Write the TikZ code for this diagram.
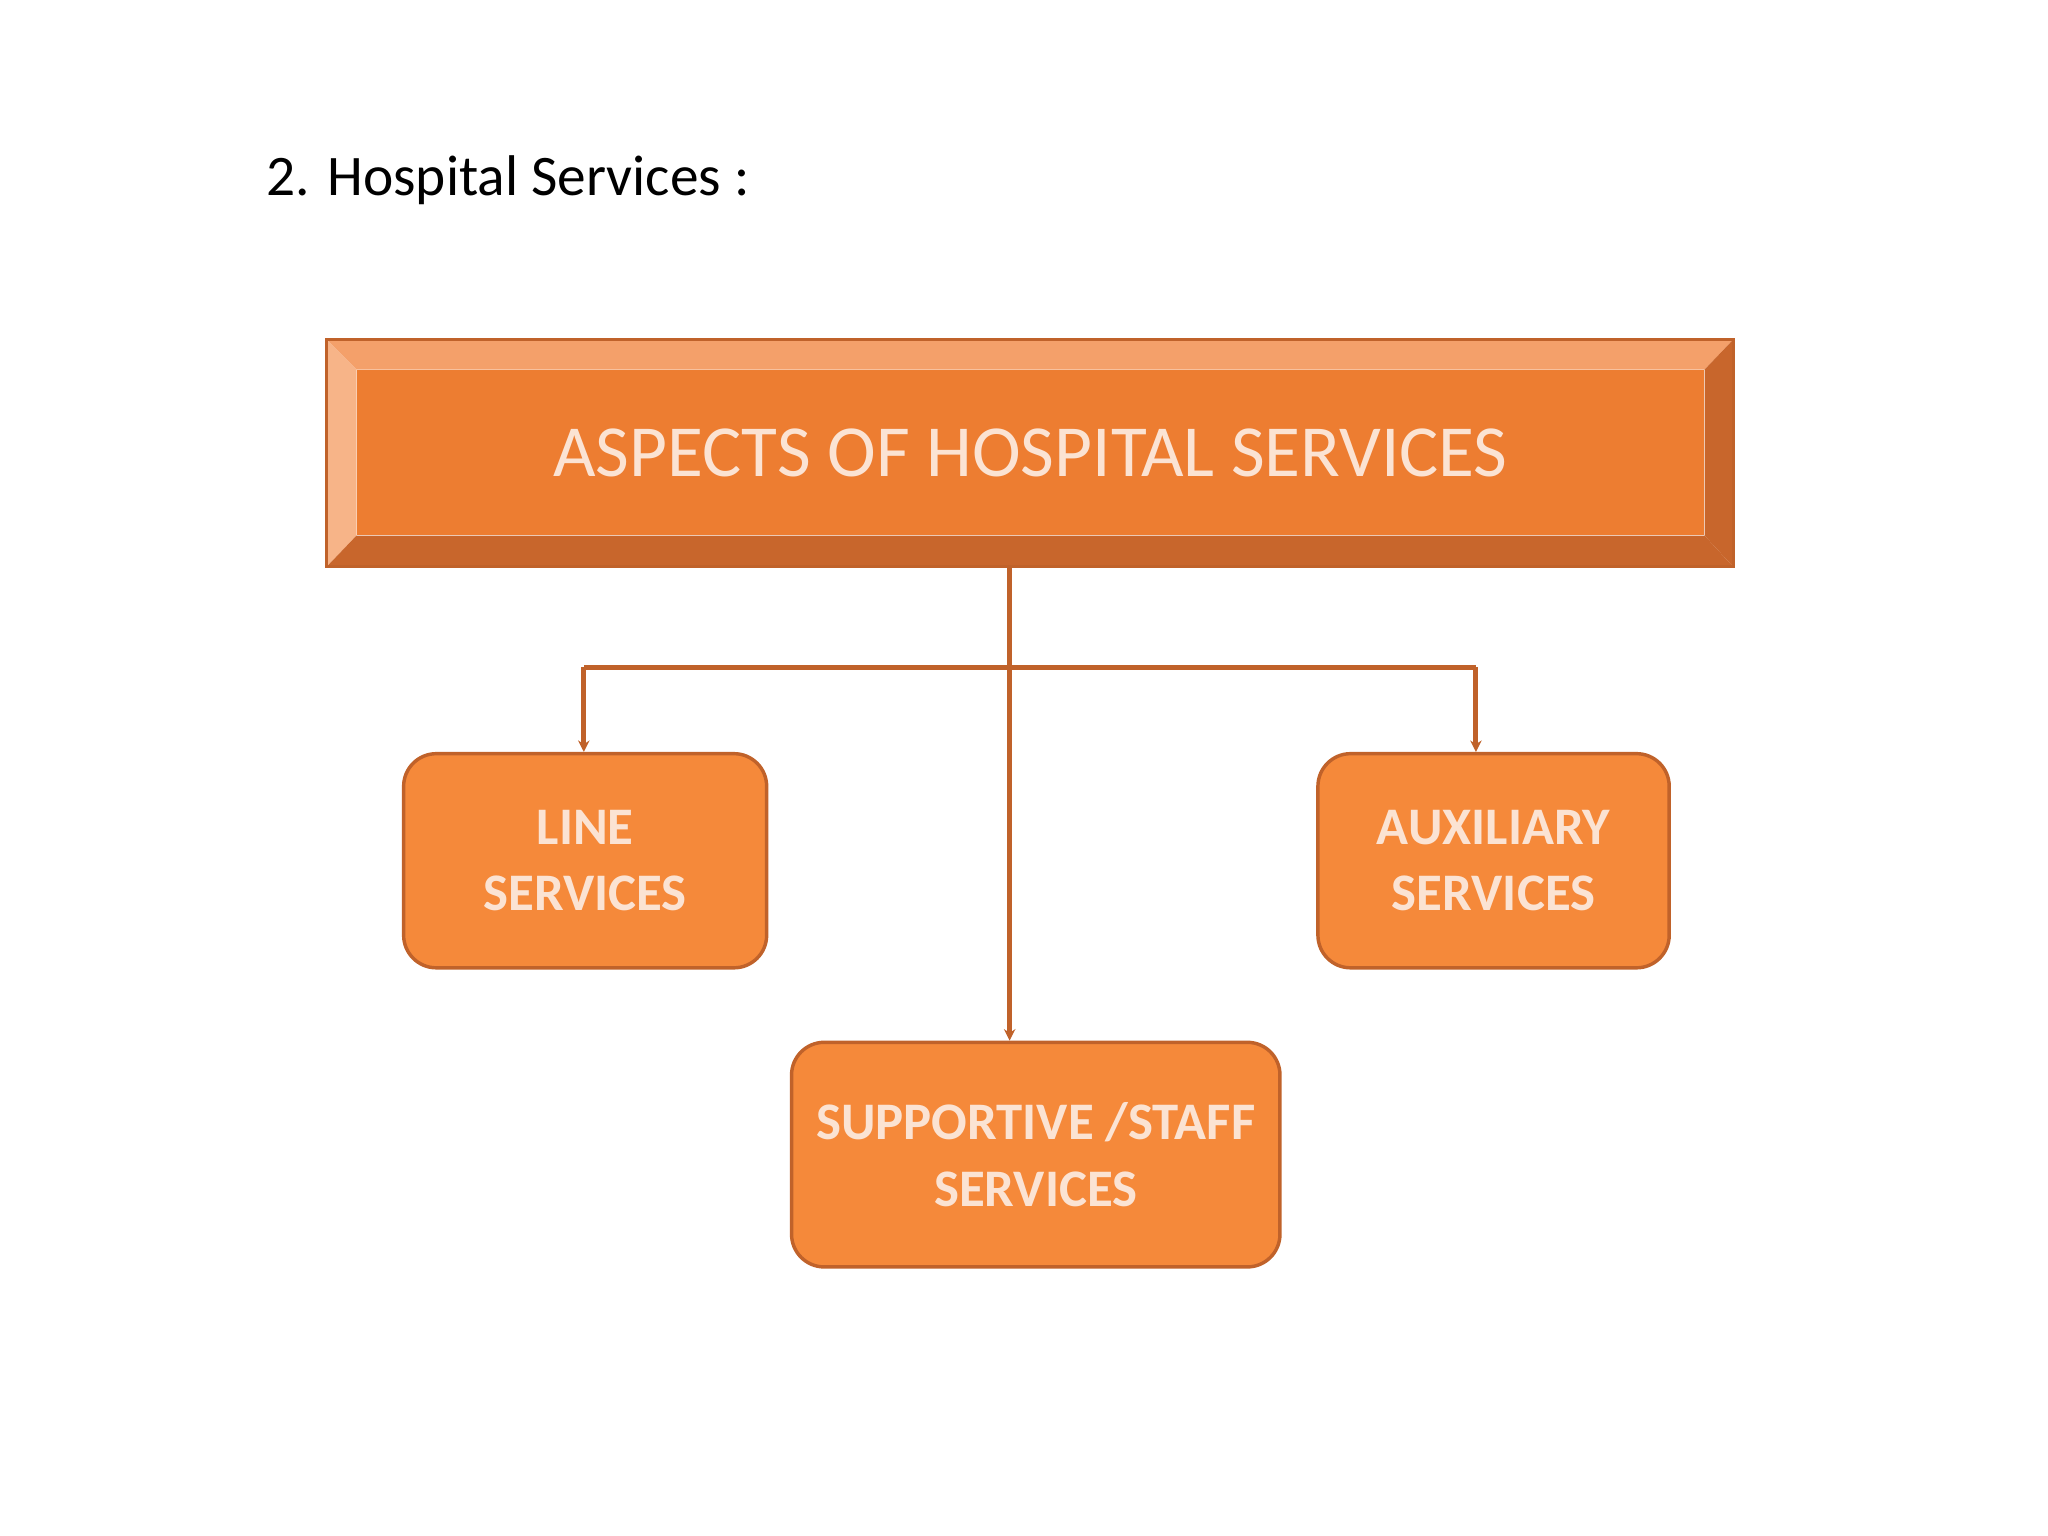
\documentclass[tikz,border=0pt]{standalone}
\usepackage{fontspec}
\setmainfont{Carlito}
\usetikzlibrary{arrows.meta}
\definecolor{face}{HTML}{ED7D31}
\definecolor{boxfill}{HTML}{F5893A}
\definecolor{edge}{HTML}{C0622A}
\definecolor{bevtop}{HTML}{F4A06A}
\definecolor{bevleft}{HTML}{F7B488}
\definecolor{bevdark}{HTML}{C8662C}
\definecolor{txtlight}{HTML}{FBE3D3}
\tikzset{
  sub/.style={draw=edge, line width=1.5pt, fill=boxfill, rounded corners=0.5cm, text=txtlight,
    font=\fontsize{23}{29}\selectfont\bfseries, align=center},
  conn/.style={draw=edge, line width=2.2pt, -{Stealth[length=5pt,width=5pt]}},
  connl/.style={draw=edge, line width=2.2pt}
}
\begin{document}
\begin{tikzpicture}[x=0.02cm,y=-0.02cm]
\useasboundingbox (0,0) rectangle (1568,1176);
\node[anchor=base west, font=\fontsize{25}{30}\selectfont] (title) at (198,150) {2. Hospital Services :};
% bevel box
\fill[bevtop] (250,260) -- (1327,260) -- (1305,283) -- (273,283) -- cycle;
\fill[bevleft] (250,260) -- (273,283) -- (273,410) -- (250,434) -- cycle;
\fill[bevdark] (1327,260) -- (1327,434) -- (1305,410) -- (1305,283) -- cycle;
\fill[bevdark] (250,434) -- (1327,434) -- (1305,410) -- (273,410) -- cycle;
\draw[edge, line width=1.2pt] (250,260) rectangle (1327,434);
\node[fill=face, minimum width=20.64cm, minimum height=2.54cm, inner sep=0pt, text=txtlight,
  font=\fontsize{32}{38}\selectfont] (top) at (789,346.5) {ASPECTS OF HOSPITAL SERVICES};
\node[draw=edge, line width=1.2pt, minimum width=21.54cm, minimum height=3.48cm, inner sep=0pt] (outer) at (788.5,347) {};
\node[sub, minimum width=5.56cm, minimum height=3.28cm] (line) at (448,659) {LINE\\SERVICES};
\node[sub, minimum width=5.38cm, minimum height=3.28cm] (aux) at (1143.5,659) {AUXILIARY\\SERVICES};
\node[sub, minimum width=7.48cm, minimum height=3.44cm] (sup) at (793,884) {SUPPORTIVE /STAFF\\SERVICES};
\coordinate (j) at (773,511);
\coordinate (jl) at (447,511);
\coordinate (jr) at (1130,511);
\draw[connl] (outer.south -| j) -- (j);
\draw[conn] (j) -- (sup.north -| j);
\draw[connl] (jl) -- (jr);
\draw[conn] (jl) -- (line.north -| jl);
\draw[conn] (jr) -- (aux.north -| jr);
\end{tikzpicture}
\end{document}
